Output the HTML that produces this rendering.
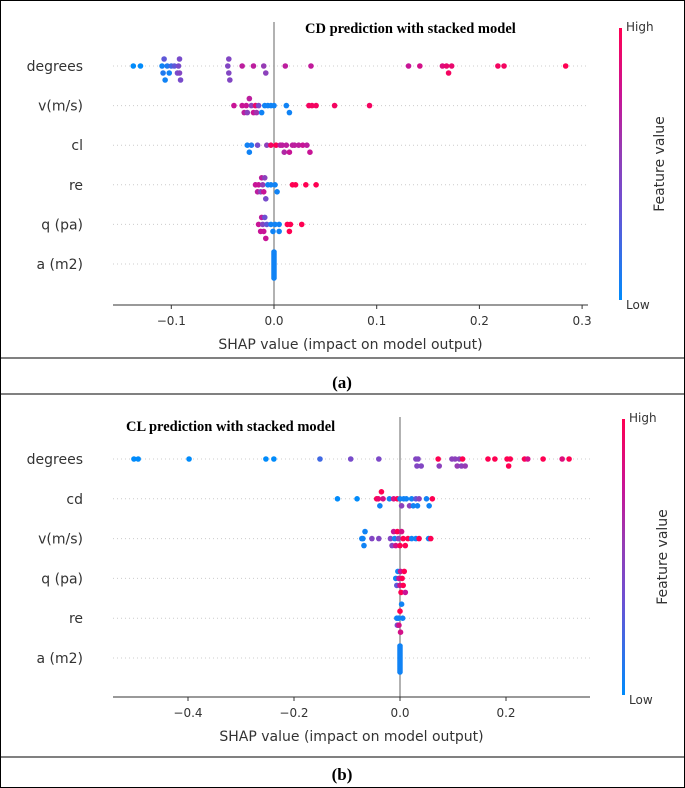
<!DOCTYPE html>
<html><head><meta charset="utf-8"><style>
body{margin:0;background:#fff;}
svg{display:block;}
.yl{font-family:"DejaVu Sans","Liberation Sans",sans-serif;font-size:14px;fill:#333;}
.tk{font-family:"DejaVu Sans","Liberation Sans",sans-serif;font-size:12px;fill:#333;}
.xl{font-family:"DejaVu Sans","Liberation Sans",sans-serif;font-size:14px;fill:#333;}
.cb{font-family:"DejaVu Sans","Liberation Sans",sans-serif;font-size:12px;fill:#333;}
.ttl{font-family:"Liberation Serif",serif;font-size:14.5px;font-weight:bold;fill:#000;}
.cap{font-family:"Liberation Serif",serif;font-size:17px;font-weight:bold;fill:#000;}
</style></head><body>
<svg id="s" width="685" height="788" viewBox="0 0 685 788" xmlns="http://www.w3.org/2000/svg">
<defs><linearGradient id="cbg" x1="0" y1="1" x2="0" y2="0">
<stop offset="0" stop-color="#008bfb"/><stop offset="0.35" stop-color="#6e50d2"/><stop offset="0.55" stop-color="#963cb4"/><stop offset="0.75" stop-color="#c81496"/><stop offset="1" stop-color="#ff0052"/></linearGradient></defs>
<rect x="0.5" y="0.5" width="684" height="787" fill="none" stroke="#000"/>
<line x1="0" y1="358" x2="685" y2="358" stroke="#000"/>
<line x1="0" y1="394" x2="685" y2="394" stroke="#000"/>
<line x1="0" y1="757" x2="685" y2="757" stroke="#000"/>
<text x="342" y="388" text-anchor="middle" class="cap">(a)</text>
<text x="342" y="780" text-anchor="middle" class="cap">(b)</text>
</svg>
<script>
// ---- CD chart data ----
const cdFeatures = ["degrees","v(m/s)","cl","re","q (pa)","a (m2)"];
const cdTicks = [-0.1,0.0,0.1,0.2,0.3];
const cdTickLabels = ["\u22120.1","0.0","0.1","0.2","0.3"];
const cdDegreesVals = [-0.137,-0.130,-0.109,-0.108,-0.107,-0.106,-0.104,-0.102,-0.100,-0.097,-0.094,-0.093,-0.092,-0.092,-0.091,-0.044,-0.044,-0.045,-0.043,-0.031,-0.020,-0.010,-0.008,0.011,0.036,0.131,0.142,0.164,0.168,0.170,0.173,0.218,0.224,0.284];
const cdDegreesFeat = [0,0,0.05,0.1,0.3,0.05,0.1,0.05,0.2,0.3,0.4,0.4,0.45,0.4,0.4,0.45,0.45,0.45,0.45,0.7,0.7,0.55,0.5,0.7,0.72,0.75,0.8,0.85,0.9,0.95,0.9,0.95,0.95,1];
const cdVVals = [-0.039,-0.031,-0.029,-0.027,-0.026,-0.024,-0.022,-0.020,-0.018,-0.017,-0.015,-0.012,-0.009,-0.006,-0.003,0.0,0.012,0.015,0.034,0.037,0.041,0.059,0.093];
const cdVFeat = [0.75,0.75,0.7,0.75,0.5,0.7,0.5,0.75,0.9,0.6,0.4,0.05,0.05,0.05,0.05,0.05,0.05,0.05,0.95,0.95,0.95,0.95,0.95];
const cdClVals = [-0.026,-0.024,-0.022,-0.016,-0.007,-0.003,0.002,0.006,0.008,0.010,0.012,0.015,0.018,0.020,0.024,0.028,0.032,0.035];
const cdClFeat = [0.05,0.05,0.1,0.4,0.5,0.95,1,0.7,0.7,0.65,0.7,0.75,0.7,0.7,0.7,0.75,0.7,0.75];
const cdReVals = [-0.018,-0.016,-0.015,-0.013,-0.012,-0.011,-0.010,-0.009,-0.008,-0.006,-0.003,0.001,0.003,0.018,0.021,0.031,0.041];
const cdReFeat = [0.75,0.7,0.75,0.5,0.7,0.55,0.75,0.5,0.4,0.05,0.05,0.05,0.05,1,1,1,1];
const cdQVals = [-0.015,-0.013,-0.012,-0.011,-0.010,-0.009,-0.008,-0.007,-0.003,-0.001,0.001,0.005,0.005,0.013,0.015,0.016,0.027];
const cdQFeat = [0.75,0.75,0.7,0.45,0.75,0.35,0.75,0.3,0.05,0.05,0.05,0.05,0.05,1,1,1,1];
const cdAVals = [0,0,0,0,0,0,0,0,0,0,0,0,0,0];
const cdAFeat = [0.05,0.05,0.05,0.05,0.05,0.05,0.05,0.05,0.05,0.05,0.05,0.05,0.05,0.05];
// ---- CL chart data ----
const clFeatures = ["degrees","cd","v(m/s)","q (pa)","re","a (m2)"];
const clTicks = [-0.4,-0.2,0.0,0.2];
const clTickLabels = ["\u22120.4","\u22120.2","0.0","0.2"];
const clDegreesVals = [-0.502,-0.494,-0.398,-0.253,-0.238,-0.151,-0.093,-0.040,0.030,0.032,0.034,0.040,0.072,0.074,0.098,0.104,0.108,0.112,0.116,0.118,0.123,0.166,0.179,0.202,0.205,0.208,0.235,0.241,0.270,0.306,0.319];
const clDegreesFeat = [0,0,0,0,0,0.2,0.4,0.42,0.45,0.45,0.45,0.45,1,0.5,0.5,0.5,0.55,0.5,0.5,1,0.55,1,1,1,1,1,1,0.8,1,0.85,1];
const clCdVals = [-0.118,-0.081,-0.044,-0.041,-0.038,-0.035,-0.032,-0.020,-0.012,-0.005,0.0,0.003,0.007,0.012,0.018,0.022,0.025,0.030,0.033,0.036,0.050,0.055,0.061];
const clCdFeat = [0,0,1,0.9,0.05,1,0.8,0.05,0.8,1,0.05,0.5,0.05,0.05,0.5,0.05,0.05,0.3,0.05,0.5,0.05,0.05,1];
const clVVals = [-0.072,-0.070,-0.068,-0.066,-0.053,-0.040,-0.018,-0.015,-0.012,-0.010,-0.008,-0.005,-0.003,0.0,0.003,0.006,0.010,0.015,0.022,0.030,0.036,0.054,0.058];
const clVFeat = [0.05,0.05,0.05,0.05,0.45,0.45,0.45,0.45,0.75,0.05,0.8,1,0.5,1,0.8,1,1,1,0.05,0.05,1,0.05,1];
const clQVals = [-0.008,-0.006,-0.004,-0.002,0,0.001,0.002,0.004,0.006,0.008,0.010];
const clQFeat = [0.05,0.3,0.05,0.75,0.8,0.75,1,1,1,1,0.75];
const clReVals = [-0.006,-0.005,-0.003,-0.002,0,0.001,0.003,0.005];
const clReFeat = [0.05,0.4,0.05,0.8,1,0.8,0.05,0.05];
const clAVals = [0,0,0,0,0,0,0,0,0,0,0,0,0,0];
const clAFeat = [0.05,0.05,0.05,0.05,0.05,0.05,0.05,0.05,0.05,0.05,0.05,0.05,0.05,0.05];

const NS="http://www.w3.org/2000/svg";
const svg=document.getElementById('s');
function mk(tag,attrs,parent){const e=document.createElementNS(NS,tag);for(const k in attrs)e.setAttribute(k,attrs[k]);(parent||svg).appendChild(e);return e;}
const stops=[[0,[0,139,251]],[0.35,[110,80,210]],[0.55,[150,60,180]],[0.75,[200,20,150]],[1,[255,0,82]]];
function color(f){for(let i=1;i<stops.length;i++){if(f<=stops[i][0]){const a=stops[i-1],b=stops[i];const t=(f-a[0])/(b[0]-a[0]);const c=a[1].map((v,j)=>Math.round(v+(b[1][j]-v)*t));return `rgb(${c[0]},${c[1]},${c[2]})`;}}return 'rgb(255,0,82)';}

function drawChart(cfg){
  const g=mk('g',{});
  
  
  const xs=v=>cfg.x0+v*cfg.scale;
  const t=mk('text',{x:cfg.titleX,y:cfg.titleY,class:'ttl'},g);t.textContent=cfg.title;
  
  cfg.features.forEach((f,i)=>{
    const y=cfg.rowY0+i*cfg.rowStep;
    const gl=mk('line',{x1:cfg.axL,x2:cfg.axR,y1:y,y2:y,stroke:'#ccc','stroke-width':1,'stroke-dasharray':'1,3'},g);
    
    const lb=mk('text',{x:cfg.labelX,y:y+5,'text-anchor':'end',class:'yl'},g);lb.textContent=f;
    
  });
  const zl=mk('line',{x1:xs(0),x2:xs(0),y1:cfg.zeroTop,y2:cfg.axY,stroke:'#999','stroke-width':1.5},g);
  
  cfg.series.forEach((s,i)=>{
    const yc=cfg.rowY0+i*cfg.rowStep;
    const idx=s.vals.map((v,k)=>k).sort((a,b)=>s.vals[a]-s.vals[b]);
    let lastBin=null,layer=0;const lanes={};
    idx.forEach(k=>{const b=Math.round(xs(s.vals[k])/4);
      if(b===lastBin)layer++;else layer=0;lastBin=b;
      lanes[k]=Math.ceil(layer/2)*((layer%2)*2-1);});
    const mx=Math.max(1,...Object.values(lanes).map(Math.abs));
    const sp=Math.min(7,14/mx);
    idx.forEach(k=>{
      const c=mk('circle',{cx:xs(s.vals[k]),cy:yc+lanes[k]*sp,r:2.8,fill:color(s.feat[k])},g);
      
      
    });
  });
  const ax=mk('line',{x1:cfg.axL,x2:cfg.axR,y1:cfg.axY,y2:cfg.axY,stroke:'#333','stroke-width':1},g);
  
  cfg.ticks.forEach((tv,i)=>{
    const tk=mk('line',{x1:xs(tv),x2:xs(tv),y1:cfg.axY,y2:cfg.axY+4,stroke:'#333'},g);
    
    const tl=mk('text',{x:xs(tv),y:cfg.axY+20,'text-anchor':'middle',class:'tk'},g);tl.textContent=cfg.tickLabels[i];
    
  });
  const xl=mk('text',{x:(cfg.axL+cfg.axR)/2,y:cfg.axY+44,'text-anchor':'middle',class:'xl'},g);
  xl.textContent='SHAP value (impact on model output)';
  
  const cb=mk('rect',{x:cfg.cbX,y:cfg.cbTop,width:3,height:cfg.cbBot-cfg.cbTop,fill:'url(#cbg)'},g);
  
  const hi=mk('text',{x:cfg.cbX+7,y:cfg.cbTop+3,class:'cb'},g);hi.textContent='High';
  
  const lo=mk('text',{x:cfg.cbX+7,y:cfg.cbBot+9,class:'cb'},g);lo.textContent='Low';
  
  const cy=(cfg.cbTop+cfg.cbBot)/2;
  const fv=mk('text',{x:cfg.cbX+45,y:cy,'text-anchor':'middle',class:'xl',transform:`rotate(-90 ${cfg.cbX+45} ${cy})`},g);
  fv.textContent='Feature value';
  
}

drawChart({name:'cd-shap-chart',title:'CD prediction with stacked model',titleX:305,titleY:33,
  features:cdFeatures,ticks:cdTicks,tickLabels:cdTickLabels,x0:274,scale:1027,
  rowY0:66,rowStep:39.6,axL:113,axR:588,axY:305,zeroTop:22,labelX:83,
  cbX:619,cbTop:28,cbBot:300,
  series:[{vals:cdDegreesVals,feat:cdDegreesFeat},{vals:cdVVals,feat:cdVFeat},{vals:cdClVals,feat:cdClFeat},
          {vals:cdReVals,feat:cdReFeat},{vals:cdQVals,feat:cdQFeat},{vals:cdAVals,feat:cdAFeat}]});
drawChart({name:'cl-shap-chart',title:'CL prediction with stacked model',titleX:126,titleY:431,
  features:clFeatures,ticks:clTicks,tickLabels:clTickLabels,x0:400,scale:530,
  rowY0:459,rowStep:39.8,axL:113,axR:590,axY:697,zeroTop:417,labelX:83,
  cbX:622,cbTop:419,cbBot:695,
  series:[{vals:clDegreesVals,feat:clDegreesFeat},{vals:clCdVals,feat:clCdFeat},{vals:clVVals,feat:clVFeat},
          {vals:clQVals,feat:clQFeat},{vals:clReVals,feat:clReFeat},{vals:clAVals,feat:clAFeat}]});
</script>
</body></html>
